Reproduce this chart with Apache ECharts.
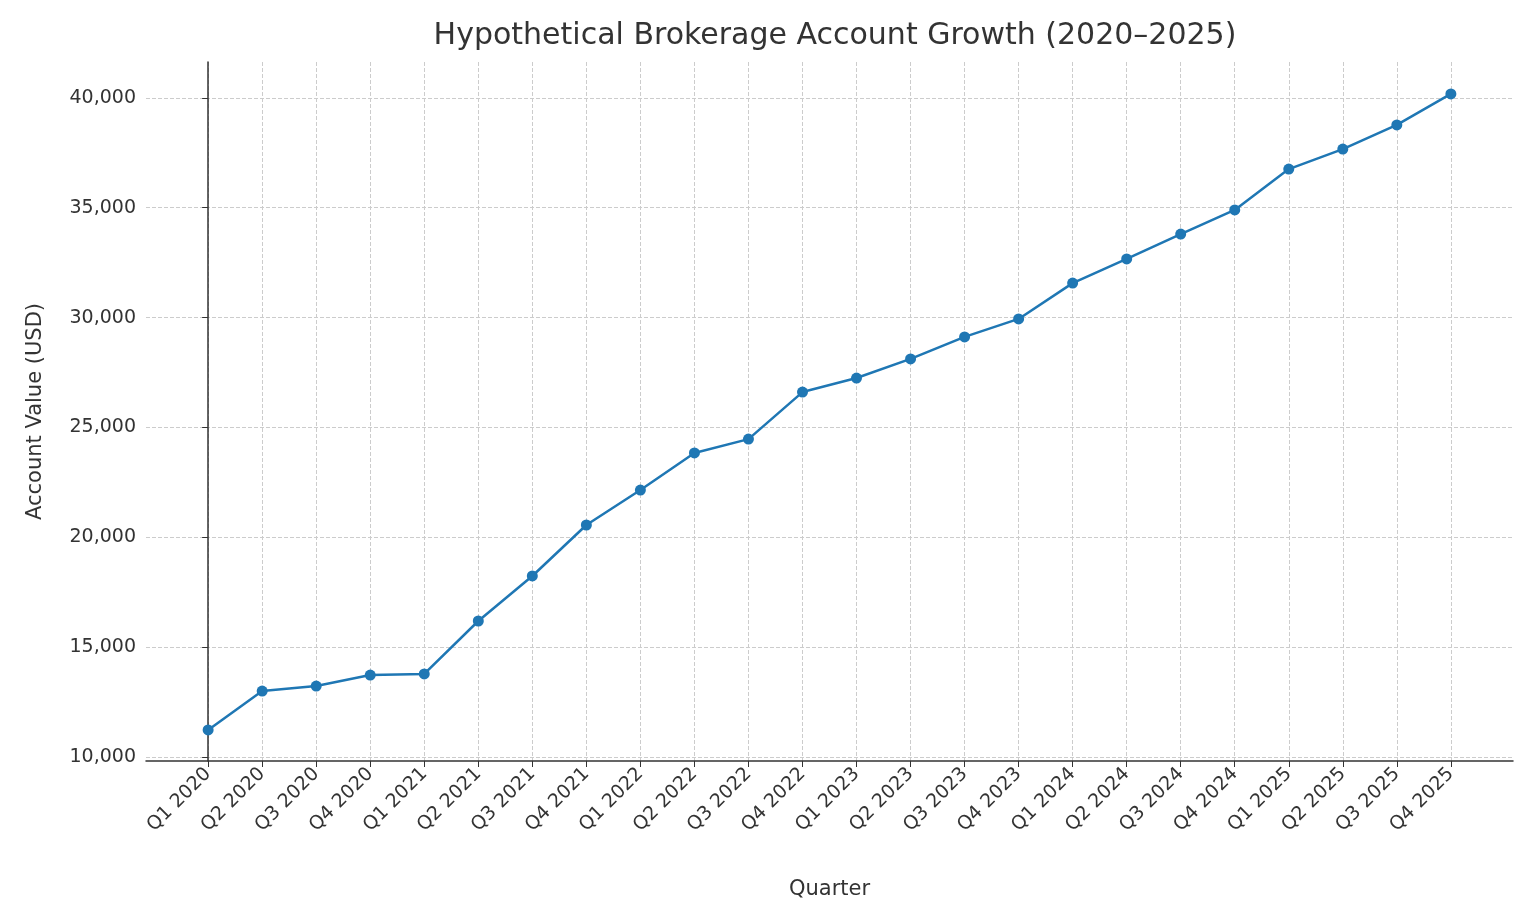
<!DOCTYPE html>
<html><head><meta charset="utf-8">
<script src="https://cdn.jsdelivr.net/npm/echarts@6/dist/echarts.min.js"></script>
<style>html,body{margin:0;padding:0;background:#fff}#c{width:1536px;height:922px}</style>
</head><body><div id="c"></div>
<script>
const categories = ['Q1 2020','Q2 2020','Q3 2020','Q4 2020','Q1 2021','Q2 2021','Q3 2021','Q4 2021','Q1 2022','Q2 2022','Q3 2022','Q4 2022','Q1 2023','Q2 2023','Q3 2023','Q4 2023','Q1 2024','Q2 2024','Q3 2024','Q4 2024','Q1 2025','Q2 2025','Q3 2025','Q4 2025'];
const values = [11230,13000,13230,13730,13780,16190,18240,20560,22150,23840,24470,26610,27250,28120,29120,29940,31570,32670,33800,34900,36760,37670,38770,40180];
const yTicks = [10000,15000,20000,25000,30000,35000,40000];
const xTicks = categories.map((_, i) => i);

const chart = echarts.init(document.getElementById('c'));
const font = 'DejaVu Sans';
chart.setOption({
  animation: false,
  title: { text: 'Hypothetical Brokerage Account Growth (2020–2025)', left: 830, top: 16, textAlign: 'center',
    textStyle: { fontFamily: font, fontSize: 30, fontWeight: 'normal', color: '#333' } },
  grid: { left: 146, right: 23, top: 62, bottom: 161 },
  xAxis: {
    type: 'value', min: -1.15, max: 24.15,
    name: 'Quarter', nameLocation: 'middle', nameGap: 118,
    nameTextStyle: { fontFamily: font, fontSize: 21, color: '#333' },
    axisLine: { onZero: false, lineStyle: { color: '#333', width: 1.5 } },
    axisTick: { customValues: xTicks, length: 6, lineStyle: { color: '#333' } },
    axisLabel: { customValues: xTicks, rotate: 45, margin: 10, fontFamily: font, fontSize: 19, color: '#333',
      formatter: v => categories[Math.round(v)] },
    splitLine: { show: true, lineStyle: { color: '#ccc', type: 'dashed' } }
  },
  yAxis: {
    type: 'value', min: 9818, max: 41634,
    name: 'Account Value (USD)', nameLocation: 'middle', nameGap: 100,
    nameTextStyle: { fontFamily: font, fontSize: 21, color: '#333' },
    axisLine: { show: true, lineStyle: { color: '#333', width: 1.5 } },
    axisTick: { show: true, customValues: yTicks, length: 6, lineStyle: { color: '#333' } },
    axisLabel: { customValues: yTicks, margin: 10, fontFamily: font, fontSize: 19, color: '#333' },
    splitLine: { show: true, lineStyle: { color: '#ccc', type: 'dashed' } }
  },
  series: [{
    type: 'line', data: values.map((v, i) => [i, v]),
    lineStyle: { color: '#1f77b4', width: 2.5 },
    itemStyle: { color: '#1f77b4' },
    symbol: 'circle', symbolSize: 11
  }]
});
</script></body></html>
